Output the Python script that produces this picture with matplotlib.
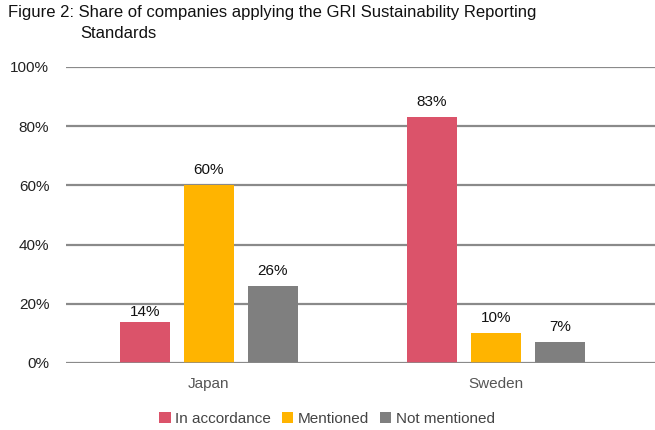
import numpy as np
import matplotlib
matplotlib.use("Agg")
import matplotlib.pyplot as plt

plt.rcParams['font.family'] = ['Liberation Sans', 'DejaVu Sans']

countries = ["Japan", "Sweden"]
series = ["In accordance", "Mentioned", "Not mentioned"]
in_accordance = [14, 83]
mentioned = [60, 10]
not_mentioned = [26, 7]
colors = ["#DB536A", "#FFB400", "#7F7F7F"]
yticks = [0, 20, 40, 60, 80, 100]

fig = plt.figure(figsize=(6.55, 4.3), dpi=100)
ax = fig.add_axes([66 / 655, 1 - 363 / 430, 1 - 66 / 655, (363 - 67) / 430])

x = np.arange(len(countries))
width = 0.174
offsets = [-0.223, 0.0, 0.223]
for name, vals, off, col in zip(series, [in_accordance, mentioned, not_mentioned], offsets, colors):
    bars = ax.bar(x + off, vals, width, color=col, label=name, zorder=3)
    for b, v in zip(bars, vals):
        # label just under the 20% gridline gets squeezed down like in the original
        dy = 2 if 17 < v < 20 or (name == "In accordance" and v == 14) else 6
        ax.annotate(f"{v}%", (b.get_x() + b.get_width() / 2, v), xytext=(0, dy),
                    textcoords="offset points", ha="center", va="bottom",
                    fontsize=11, color="#111111", zorder=5)

ax.set_xlim(-0.498, 1.554)
ax.set_ylim(0, 100)
ax.set_yticks(yticks)
ax.set_yticklabels([f"{t}%" for t in yticks])
ax.yaxis.grid(True, color="#8a8a8a", linewidth=1.6, zorder=0)
ax.set_axisbelow(True)
for s in ax.spines.values():
    s.set_visible(False)
ax.axhline(0, color="#8a8a8a", linewidth=1.8, zorder=4)
ax.tick_params(axis="y", length=0, pad=12, labelsize=11, labelcolor="#222222")
ax.set_xticks(x)
ax.set_xticklabels(countries)
ax.tick_params(axis="x", length=0, pad=10, labelsize=11, labelcolor="#555555")

fig.text(8 / 655, 1 - 13 / 430, "Figure 2: Share of companies applying the GRI Sustainability Reporting",
         fontsize=12, va="center", ha="left", color="#111111")
fig.text(80 / 655, 1 - 34 / 430, "Standards", fontsize=12, va="center", ha="left", color="#111111")

fig.legend(loc="center", bbox_to_anchor=(327 / 655, 1 - 419 / 430), ncol=3, frameon=False,
           fontsize=11, handlelength=0.75, handleheight=0.75, handletextpad=0.3,
           columnspacing=0.7, labelcolor="#444444")

fig.savefig("out.png", dpi=100)
